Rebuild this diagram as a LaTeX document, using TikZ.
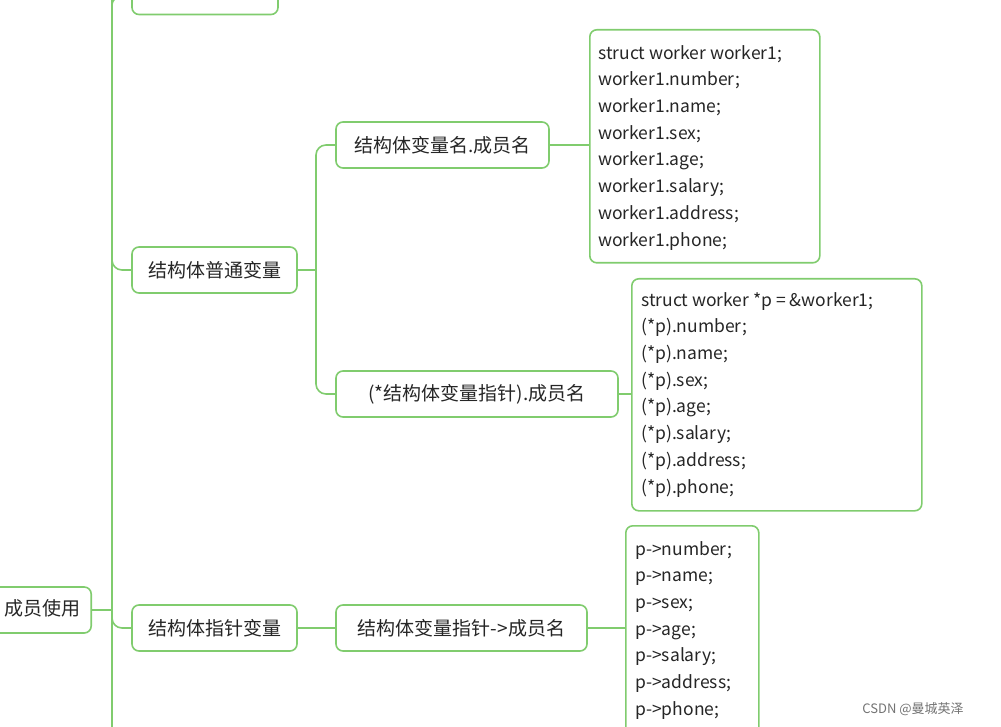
\documentclass[tikz,border=0pt]{standalone}
\usepackage{fontspec}
\setmainfont{Noto Sans CJK SC}
\begin{document}
\begin{tikzpicture}[x=1pt,y=-1pt,
  gline/.style={draw=mmgreen,line width=1.6pt},
  box/.style={gline,rounded corners=7pt,fill=white,inner sep=0pt,font=\fontsize{19}{22}\selectfont,text=black!85},
  codebox/.style={gline,rounded corners=7pt,fill=white,anchor=north west,inner sep=0pt},
  code/.style={align=left,anchor=north west,inner sep=0pt,font=\fontsize{17.5}{26.7}\selectfont,text=black!85}]
\definecolor{mmgreen}{RGB}{128,204,110}
\useasboundingbox (0,0) rectangle (1001,727);
\clip (0,0) rectangle (1001,727);
% trunk
\draw[gline] (112,-5) -- (112,732);
\node[box,minimum width=146pt,minimum height=35pt] (top) at (205,-3) {};
\draw[gline,rounded corners=8pt] (112,0) |- (top.west);
\node[box,minimum width=110pt,minimum height=46pt,anchor=east] (root) at (92,610) {};
\node[font=\fontsize{19}{22}\selectfont,text=black!85,anchor=east] (rootl) at (84,608) {成员使用};
\draw[gline] (root.east) -- (112,610);
\node[box,minimum width=165pt,minimum height=46pt] (v1) at (214.5,270) {结构体普通变量};
\node[box,minimum width=165pt,minimum height=46pt] (v2) at (214.5,628) {结构体指针变量};
\draw[gline,rounded corners=10pt] (112,200) |- (v1.west);
\draw[gline,rounded corners=10pt] (112,560) |- (v2.west);
\node[box,minimum width=213pt,minimum height=46pt] (m1) at (442.5,145) {结构体变量名.成员名};
\node[box,minimum width=282pt,minimum height=46pt] (m2) at (477,394) {(*结构体变量指针).成员名};
\node[box,minimum width=251pt,minimum height=46pt] (m3) at (461.5,628) {结构体变量指针->成员名};
\draw[gline] (v1.east) -- (316,270);
\draw[gline,rounded corners=10pt] (316,270) |- (m1.west);
\draw[gline,rounded corners=10pt] (316,270) |- (m2.west);
\draw[gline] (v2.east) -- (m3.west);
\node[codebox,minimum width=230pt,minimum height=233pt] (c1) at (589,29) {};
\node[code] (t1) at (598,45) {struct worker worker1;\\worker1.number;\\worker1.name;\\worker1.sex;\\worker1.age;\\worker1.salary;\\worker1.address;\\worker1.phone;};
\node[codebox,minimum width=290pt,minimum height=232pt] (c2) at (631,278) {};
\node[code] (t2) at (641,292) {struct worker *p = \&worker1;\\(*p).number;\\(*p).name;\\(*p).sex;\\(*p).age;\\(*p).salary;\\(*p).address;\\(*p).phone;};
\node[codebox,minimum width=133pt,minimum height=215pt] (c3) at (625,525) {};
\node[code] (t3) at (635,541) {p->number;\\p->name;\\p->sex;\\p->age;\\p->salary;\\p->address;\\p->phone;};
\draw[gline] (m1.east) -- (c1.west |- m1.east);
\draw[gline] (m2.east) -- (c2.west |- m2.east);
\draw[gline] (m3.east) -- (c3.west |- m3.east);
\node[font=\fontsize{13}{15}\selectfont,text=black!55] (wm) at (913,709) {CSDN @曼城英泽};
\end{tikzpicture}
\end{document}
